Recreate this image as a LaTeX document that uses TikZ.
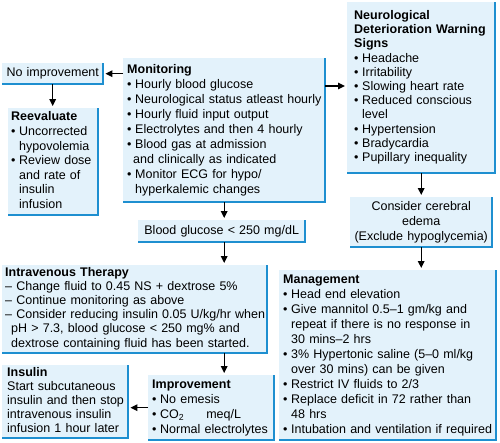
\documentclass[tikz,border=0pt]{standalone}
\usepackage{fontspec}
\setmainfont{Liberation Sans}
\usetikzlibrary{arrows.meta}
\definecolor{boxfill}{HTML}{E3F2FB}
\definecolor{boxline}{HTML}{1E8FD0}
\newcommand\bul{\makebox[8pt][l]{\textbullet}}
\newcommand\cnt{\hspace*{8pt}}
\newcommand\lines[1]{\begin{tabular}{@{}l@{}}#1\end{tabular}}
\begin{document}
\begin{tikzpicture}[x=1pt,y=-1pt,
  box/.style={fill=boxfill,anchor=north west,inner xsep=4pt,inner ysep=2pt,
    align=left,font=\fontsize{12.5}{15}\selectfont},
  tight/.style={font=\fontsize{12.5}{14.2}\selectfont},
  arr/.style={line width=1.4pt,shorten >=2pt,-{Triangle[width=6.5pt,length=7pt]}},
  edge/.style={boxline,line width=2pt}]
\useasboundingbox (0,0) rectangle (500,442);
% boxes
\node[box,align=center,text width=93pt,minimum height=21pt] (noimp) at (2,63) {No improvement};
\node[box,text width=194pt,minimum height=144pt] (monit) at (123,58)
  {\lines{\textbf{Monitoring}\\
   \bul Hourly blood glucose\\
   \bul Neurological status atleast hourly\\
   \bul Hourly fluid input output\\
   \bul Electrolytes and then 4 hourly\\
   \bul Blood gas at admission\\
   \hspace*{6pt}and clinically as indicated\\
   \bul Monitor ECG for hypo/\\
   \cnt hyperkalemic changes}};
\node[box,tight,inner xsep=7pt,inner ysep=1pt,text width=134pt,minimum height=171pt] (neuro) at (347,2)
  {\lines{\textbf{Neurological}\\
   \textbf{Deterioration Warning}\\
   \textbf{Signs}\\
   \bul Headache\\
   \bul Irritability\\
   \bul Slowing heart rate\\
   \bul Reduced conscious\\
   \cnt level\\
   \bul Hypertension\\
   \bul Bradycardia\\
   \bul Pupillary inequality}};
\node[box,align=center,text width=134pt,minimum height=50pt] (edema) at (350,197)
  {Consider cerebral\\ edema\\ (Exclude hypoglycemia)};
\node[box,font=\fontsize{12.5}{14.6}\selectfont,inner xsep=3pt,text width=84pt,minimum height=107pt] (reeval) at (8,108)
  {\lines{\textbf{Reevaluate}\\
   \bul Uncorrected\\
   \cnt hypovolemia\\
   \bul Review dose\\
   \cnt and rate of\\
   \cnt insulin\\
   \cnt infusion}};
\node[box,align=center,text width=159pt,minimum height=22pt] (bg) at (138,220)
  {Blood glucose < 250 mg/dL};
\node[box,tight,inner xsep=3pt,inner ysep=1pt,text width=259pt,minimum height=87pt] (iv) at (2,265)
  {\lines{\textbf{Intravenous Therapy}\\
   -- Change fluid to 0.45 NS + dextrose 5\%\\
   -- Continue monitoring as above\\
   -- Consider reducing insulin 0.05 U/kg/hr when\\
   \hspace*{6pt}pH > 7.3, blood glucose < 250 mg\% and\\
   \hspace*{6pt}dextrose containing fluid has been started.}};
\node[box,text width=209pt,minimum height=170pt] (mgmt) at (279,270)
  {\lines{\textbf{Management}\\
   \bul Head end elevation\\
   \bul Give mannitol 0.5--1 gm/kg and\\
   \cnt repeat if there is no response in\\
   \cnt 30 mins--2 hrs\\
   \bul 3\% Hypertonic saline (5--0 ml/kg\\
   \cnt over 30 mins) can be given\\
   \bul Restrict IV fluids to 2/3\\
   \bul Replace deficit in 72 rather than\\
   \cnt 48 hrs\\
   \bul Intubation and ventilation if required}};
\node[box,text width=118pt,minimum height=65pt] (improv) at (148,375)
  {\lines{\textbf{Improvement}\\
   \bul No emesis\\
   \bul CO\textsubscript{2}\hspace{22pt}meq/L\\
   \bul Normal electrolytes}};
\node[box,tight,inner xsep=5pt,inner ysep=1pt,text width=116pt,minimum height=72pt] (insul) at (2,365)
  {\lines{\textbf{Insulin}\\
   Start subcutaneous\\
   insulin and then stop\\
   intravenous insulin\\
   infusion 1 hour later}};
% right and bottom borders
\foreach \n in {noimp,monit,neuro,edema,reeval,bg,iv,mgmt,improv,insul}
  \draw[edge] (\n.north east) -- (\n.south east) -- (\n.south west);
% arrows
\coordinate (mright) at ([yshift=-28pt]monit.north east);
\draw[arr] (monit.west |- noimp.east) -- (noimp.east);
\draw[arr] (noimp.south) -- (noimp.south |- reeval.north);
\draw[arr] (mright) -- (neuro.west |- mright);
\draw[arr] (monit.south) -- (monit.south |- bg.north);
\draw[arr] (monit.south |- bg.south) -- (monit.south |- iv.north);
\draw[arr] (monit.south |- iv.south) -- (monit.south |- improv.north);
\draw[arr] (improv.west) -- (insul.east |- improv.west);
\draw[arr] (neuro.south) -- (edema.north);
\draw[arr] (edema.south) -- (edema.south |- mgmt.north);
\end{tikzpicture}
\end{document}
